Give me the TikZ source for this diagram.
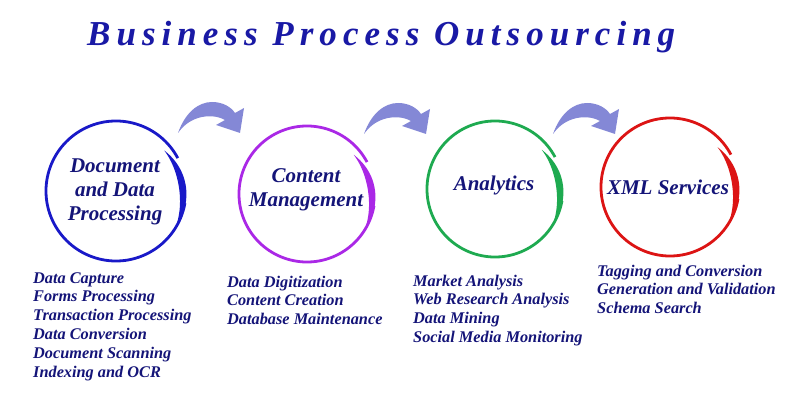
\documentclass[tikz,border=0pt]{standalone}
\usepackage{fontspec}
\setmainfont{Liberation Serif}
\newfontfamily\titlefont[LetterSpace=17.2]{Liberation Serif}
\usetikzlibrary{positioning,calc}
\definecolor{navy}{RGB}{20,20,120}
\definecolor{titleblue}{RGB}{25,25,165}
\definecolor{ringblue}{RGB}{25,25,200}
\definecolor{ringpurple}{RGB}{170,40,230}
\definecolor{ringgreen}{RGB}{30,170,80}
\definecolor{ringred}{RGB}{220,20,20}
\definecolor{arrowblue}{RGB}{132,136,214}
% brush circle: centre, radius, colour
\newcommand\brushring[3]{%
	\draw[#3, line width=2.8] (#1) ++(-28:#2) arc[start angle=-28, end angle=-350, radius=#2];
	\fill[#3, shift={(#1)}] plot[domain=-40:32, samples=30] (\x:{#2-7+7*(\x+40)/72+3.5*sin(180*(\x+40)/72)})
		-- plot[domain=32:-40, samples=30] (\x:{#2-7+7*(\x+40)/72-3.5*sin(180*(\x+40)/72)}) -- cycle;
}
\tikzset{
	bend arrow/.pic={
		\fill[arrowblue] (0,0) .. controls (7,-20) and (20,-31) .. (34,-31)
			.. controls (45,-31) and (53,-26) .. (57,-20) -- (66,-25) -- (62,0) -- (38,-8) -- (47,-13)
			.. controls (40,-17) and (30,-18) .. (20,-15) .. controls (11,-12) and (5,-7) .. cycle;
	}
}

\begin{document}
\begin{tikzpicture}[x=1pt, y=-1pt]
	\tikzstyle{titletext} = [anchor=base west, inner sep=0, text=titleblue, font=\titlefont\fontsize{35}{35}\selectfont\bfseries\itshape]
	\tikzstyle{ringtext} = [align=center, inner sep=0, text=navy, font=\fontsize{21}{24}\selectfont\bfseries\itshape]
	\tikzstyle{listitem} = [anchor=base west, inner sep=0, text=navy, font=\fontsize{16.3}{16}\selectfont\bfseries\itshape]
	\useasboundingbox (0,0) rectangle (800,409);
	\node (title)[titletext] at (87,46) {Business Process Outsourcing};
	% rings
	\coordinate (c1) at (116,191);
	\coordinate (c2) at (307,194);
	\coordinate (c3) at (495,189);
	\coordinate (c4) at (670,187);
	\brushring{c1}{70}{ringblue}
	\brushring{c2}{68}{ringpurple}
	\brushring{c3}{68}{ringgreen}
	\brushring{c4}{69}{ringred}
	\node (doc)[ringtext] at (115,192) {Document\\and Data\\Processing};
	\node (content)[ringtext] at (306,190) {Content\\Management};
	\node (analytics)[ringtext] at (494,185) {Analytics};
	\node (xml)[ringtext] at (668,187) {XML Services};
	% arrows
	\pic at (178,133) {bend arrow};
	\pic at (364,134) {bend arrow};
	\pic at (553,134) {bend arrow};
	% lists
	\foreach \t [count=\i from 0] in {Data Capture, Forms Processing, Transaction Processing, Data Conversion, Document Scanning, Indexing and OCR}
		\node (doc-\i)[listitem] at (33,{283+18.8*\i}) {\t};
	\foreach \t [count=\i from 0] in {Data Digitization, Content Creation, Database Maintenance}
		\node (content-\i)[listitem] at (227,{287+18.8*\i}) {\t};
	\foreach \t [count=\i from 0] in {Market Analysis, Web Research Analysis, Data Mining, Social Media Monitoring}
		\node (analytics-\i)[listitem] at (413,{286+18.7*\i}) {\t};
	\foreach \t [count=\i from 0] in {Tagging and Conversion, Generation and Validation, Schema Search}
		\node (xml-\i)[listitem] at (597,{276+18.6*\i}) {\t};
\end{tikzpicture}
\end{document}
